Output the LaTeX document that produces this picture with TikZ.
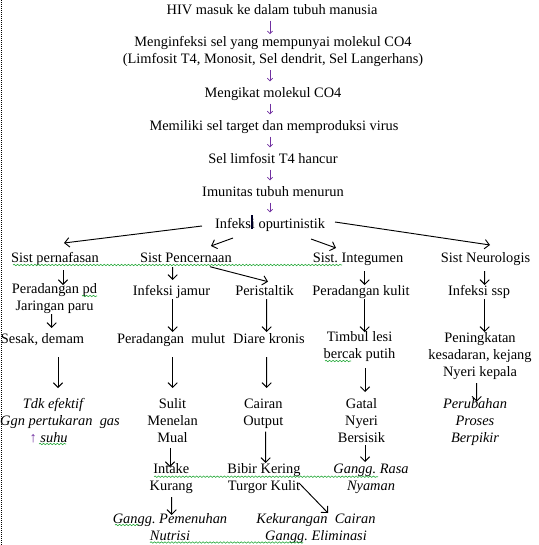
\documentclass[tikz,border=0pt]{standalone}
\usepackage{fontspec}
\setmainfont{Liberation Serif}
\usetikzlibrary{arrows.meta,calc,decorations.pathmorphing}
\definecolor{arrpurple}{RGB}{112,48,160}
\definecolor{spell}{RGB}{40,170,60}
\frenchspacing
\newcommand\rowstrut{\rule[-2.3pt]{0pt}{12.75pt}}
\tikzset{
  txt/.style={inner sep=0pt, align=center, font=\fontsize{10.8pt}{12.75pt}\selectfont,
    execute at begin node=\rowstrut, execute at end node=\rowstrut},
  itx/.style={txt, font=\fontsize{10.8pt}{12.75pt}\selectfont\itshape},
  arr/.style={line width=0.7pt, -{Straight Barb[length=3.5pt,width=7pt,line width=0.7pt]}},
  parr/.style={draw=arrpurple, line width=0.55pt, shorten <=2.2pt, shorten >=1.4pt,
    -{Straight Barb[length=2pt,width=4pt,line width=0.55pt]}},
  wavy/.style={draw=spell, line width=0.45pt, decorate,
    decoration={snake, amplitude=0.55pt, segment length=2.6pt}},
  border/.style={line width=0.6pt, dash pattern=on 0.75pt off 0.75pt},
  cursor/.style={draw=black!85!blue, line width=1pt},
}
\begin{document}
\begin{tikzpicture}[x=0.75pt,y=-0.75pt]
\useasboundingbox (0,0) rectangle (538,545);
\draw[border] (1,0) -- (1,545);

% main column
\node[txt] (hiv) at (272,9) {HIV masuk ke dalam tubuh manusia};
\node[txt] (infsel) at (273,51.5) {Menginfeksi sel yang mempunyai molekul CO4\\(Limfosit T4, Monosit, Sel dendrit, Sel Langerhans)};
\node[txt] (ikat) at (273,92) {Mengikat molekul CO4};
\node[txt] (target) at (274,125) {Memiliki sel target dan memproduksi virus};
\node[txt] (hancur) at (273,158) {Sel limfosit T4 hancur};
\node[txt] (imun) at (273,191) {Imunitas tubuh menurun};
\node[txt] (opor) at (270,223) {Infeksi opurtinistik};

\draw[parr] ([xshift=-1.5pt]hiv.south) -- ([xshift=-2.25pt]infsel.north);
\draw[parr] ([xshift=-2.25pt]infsel.south) -- ([xshift=-2.25pt]ikat.north);
\draw[parr] ([xshift=-2.25pt]ikat.south) -- ([xshift=-3pt]target.north);
\draw[parr] ([xshift=-3pt]target.south) -- ([xshift=-2.25pt]hancur.north);
\draw[parr] ([xshift=-2.25pt]hancur.south) -- ([xshift=-2.25pt]imun.north);
\draw[parr] ([xshift=-2.25pt]imun.south) -- (opor.north);
\draw[cursor] ($(opor)+(-18,-8)$) -- ($(opor)+(-18,6)$);

% level 2
\node[txt] (pern) at (55,256.7) {Sist pernafasan};
\node[txt] (cern) at (186,256.7) {Sist Pencernaan};
\node[txt] (integ) at (358,256.7) {Sist. Integumen};
\node[txt] (neuro) at (485.5,256.7) {Sist Neurologis};

\draw[arr] ($(opor)+(-68,3)$) -- ($(pern)+(9,-13.7)$);
\draw[arr] ($(opor)+(-37,15)$) -- ($(cern)+(25,-10.7)$);
\draw[arr] ($(opor)+(41,16)$) -- ($(integ)+(-22,-8.7)$);
\draw[arr] ($(opor)+(65,-1)$) -- ($(neuro)+(4.5,-11.7)$);

% level 3
\node[txt] (paru) at (54.5,298.5) {Peradangan pd\\Jaringan paru};
\node[txt] (jamur) at (171.5,290) {Infeksi jamur};
\node[txt] (peris) at (264.5,290) {Peristaltik};
\node[txt] (kulit) at (361,290) {Peradangan kulit};
\node[txt] (ssp) at (479,290) {Infeksi ssp};

\draw[arr] ($(pern)+(8,13.3)$) -- ($(paru)+(8.5,-13.5)$);
\draw[arr] ($(cern)+(-13.3,10.3)$) -- ($(jamur)+(1.2,-10)$);
\draw[arr] ($(cern)+(24,10)$) -- ($(peris)+(3.5,-8.3)$);
\draw[arr] ($(integ)+(6.7,14.3)$) -- ($(kulit)+(3.7,-5)$);
\draw[arr] ($(neuro)+(-0.8,14.3)$) -- ($(ssp)+(5.7,-5)$);

% level 4
\node[txt] (sesak) at (42.5,338) {Sesak, demam};
\node[txt] (mulut) at (171,338) {Peradangan\enspace mulut};
\node[txt] (diare) at (269,338) {Diare kronis};
\node[txt] (lesi) at (359.5,347) {Timbul lesi\\bercak putih};
\node[txt] (kesad) at (480,355.7) {Peningkatan\\kesadaran, kejang\\Nyeri kepala};

\draw[arr] ($(paru)+(-2.8,15.5)$) -- ($(sesak)+(9.2,-10)$);
\draw[arr] ($(jamur)+(1.2,9)$) -- ($(mulut)+(1.7,-6)$);
\draw[arr] ($(peris)+(2.2,9)$) -- ($(diare)+(-2.3,-6)$);
\draw[arr] ($(kulit)+(3.7,9)$) -- ($(lesi)+(5.2,-15)$);
\draw[arr] ($(ssp)+(5.7,9)$) -- ($(kesad)+(4.7,-23.7)$);

% level 5
\node[itx] (gas) at (60,421.7) {Tdk efektif\hspace*{10.5pt}\\Ggn pertukaran\ \ gas\\{\upshape\color{arrpurple}↑} suhu\hspace*{17pt}};
\node[txt] (menelan) at (172.5,421.7) {Sulit\\Menelan\\Mual};
\node[txt] (output) at (263.3,413.3) {Cairan\\Output};
\node[txt] (gatal) at (361.5,421.7) {Gatal\\Nyeri\\Bersisik};
\node[itx] (berpikir) at (475,421.7) {Perubahan\\Proses\\Berpikir};

\draw[arr] ($(sesak)+(15.5,19)$) -- ($(gas)+(-2,-33.7)$);
\draw[arr] ($(mulut)+(1.7,19)$) -- ($(menelan)+(0.2,-33.7)$);
\draw[arr] ($(diare)+(-2.3,19)$) -- ($(output)+(3.4,-25.3)$);
\draw[arr] ($(lesi)+(5.5,21)$) -- ($(gatal)+(3.5,-29.7)$);
\draw[arr] ($(kesad)+(-3.3,27.3)$) -- ($(berpikir)+(1.7,-20)$);

% level 6
\node[txt] (intake) at (171.3,478.8) {Intake\\Kurang};
\node[txt] (bibir) at (264,478.8) {Bibir Kering\\Turgor Kulit};
\node[itx] (rasa) at (371,478.8) {Gangg. Rasa\\Nyaman};

\draw[arr] ($(menelan)+(-2.5,26.3)$) -- ($(intake)+(-1.3,-11.8)$);
\draw[arr] ($(output)+(2.4,18.4)$) -- ($(bibir)+(1.7,-15.8)$);
\draw[arr] ($(gatal)+(3.5,23.3)$) -- ($(rasa)+(-6,-16.8)$);

% level 7
\node[itx] (nutrisi) at (170,528.3) {Gangg. Pemenuhan\\Nutrisi};
\node[itx] (cairan) at (316,528.3) {Kekurangan\enspace Cairan\\Gangg. Eliminasi};

\draw[arr] ($(intake)+(0.4,18.2)$) -- ($(nutrisi)+(1.7,-13.3)$);
\draw[arr] ($(bibir)+(35,4.2)$) -- ($(cairan)+(12,-15.3)$);

% spell-check underlines
\draw[wavy] (13,265) -- (342,265);
\draw[wavy] (82,296) -- (97,296);
\draw[wavy] (325,361) -- (351,361);
\draw[wavy] (39,444) -- (66,444);
\draw[wavy] (154,476.7) -- (378,476.7);
\draw[wavy] (115,525) -- (139,525);
\draw[wavy] (150,542.5) -- (303,542.5);
\end{tikzpicture}
\end{document}
